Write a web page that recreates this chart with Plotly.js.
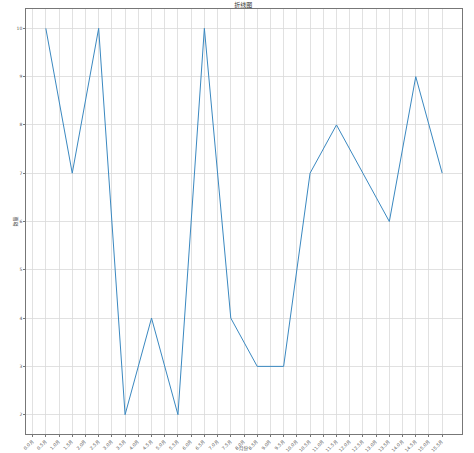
<!DOCTYPE html>
<html>
<head>
<meta charset="utf-8">
<script src="https://cdn.plot.ly/plotly-3.0.1.min.js"></script>
<style>html,body{margin:0;padding:0;background:#fff;}#chart{width:474px;height:453px;}</style>
</head>
<body>
<div id="chart"></div>
<script>
// Tick labels along the x axis (all category positions)
const xLabels = ["0.0月","0.5月","1.0月","1.5月","2.0月","2.5月","3.0月","3.5月",
                 "4.0月","4.5月","5.0月","5.5月","6.0月","6.5月","7.0月","7.5月",
                 "8.0月","8.5月","9.0月","9.5月","10.0月","10.5月","11.0月","11.5月",
                 "12.0月","12.5月","13.0月","13.5月","14.0月","14.5月","15.0月","15.5月"];
// Categories that carry data points
const categories = ["0.5月","1.5月","2.5月","3.5月","4.5月","5.5月","6.5月","7.5月",
                    "8.5月","9.5月","10.5月","11.5月","12.5月","13.5月","14.5月","15.5月"];
// Series values
const values = [10, 7, 10, 2, 4, 2, 10, 4, 3, 3, 7, 8, 7, 6, 9, 7];
const yTicks = [2, 3, 4, 5, 6, 7, 8, 9, 10];

const xPos = categories.map(c => xLabels.indexOf(c));
const tickVals = xLabels.map((_, i) => i);

const trace = {
  x: xPos, y: values, type: 'scatter', mode: 'lines',
  line: {color: '#3a88c0', width: 1},
  hoverinfo: 'skip'
};

const axisCommon = {
  showline: true, linecolor: '#555', linewidth: 0.8, mirror: true,
  ticks: 'outside', ticklen: 2, tickwidth: 0.8, tickcolor: '#555',
  showgrid: true, gridcolor: '#d9d9d9', gridwidth: 0.8,
  zeroline: false, automargin: false,
  tickfont: {family: 'DejaVu Sans', size: 4.5, color: '#555'}
};

const layout = {
  width: 474, height: 453,
  margin: {l: 26, r: 12, t: 9, b: 19, pad: 0},
  paper_bgcolor: '#ffffff', plot_bgcolor: '#ffffff',
  showlegend: false,
  title: {text: '折线图', font: {family: 'Noto Sans CJK SC', size: 6, color: '#333'},
          x: 0.513, xanchor: 'center', y: 0.993, yanchor: 'top'},
  xaxis: Object.assign({}, axisCommon, {
    range: [-0.5, 32.5], tickmode: 'array', tickvals: tickVals, ticktext: xLabels,
    tickangle: -45
  }),
  yaxis: Object.assign({}, axisCommon, {
    range: [1.6, 10.4], tickmode: 'array', tickvals: yTicks
  }),
  annotations: [
    {text: '月份', xref: 'paper', yref: 'paper', x: 0.5, y: 0, yshift: -14, xanchor: 'center', yanchor: 'middle',
     showarrow: false, font: {family: 'Noto Sans CJK SC', size: 4.5, color: '#555'}},
    {text: '数量', xref: 'paper', yref: 'paper', x: 0, xshift: -12, y: 0.5, xanchor: 'center', yanchor: 'middle',
     textangle: -90, showarrow: false, font: {family: 'Noto Sans CJK SC', size: 5, color: '#555'}}
  ]
};

Plotly.newPlot('chart', [trace], layout, {staticPlot: true, displayModeBar: false});
</script>
</body>
</html>
